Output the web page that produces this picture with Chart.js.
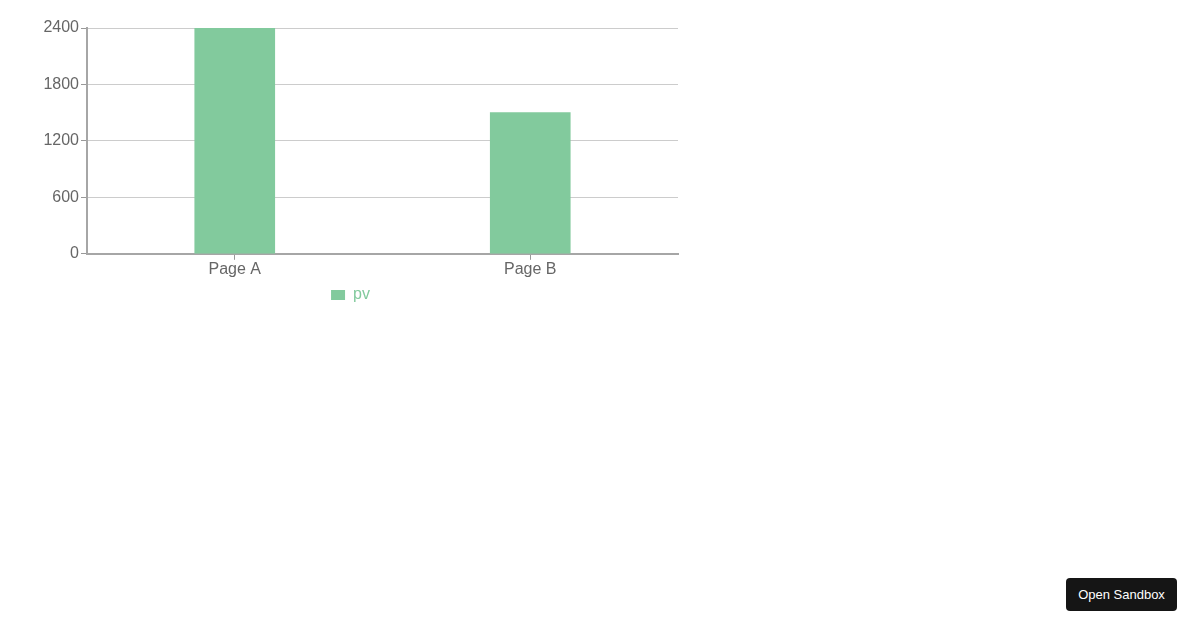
<!DOCTYPE html>
<html lang="en">
<head>
  <meta charset="UTF-8">
  <title>pv by page</title>
  <script src="https://cdn.jsdelivr.net/npm/chart.js"></script>
  <style>
    body {
      margin: 0;
      background-color: #ffffff;
      font-family: "Liberation Sans", Arial, sans-serif;
    }
    #wrap {
      position: absolute;
      left: 0;
      top: 0;
      width: 701px;
      height: 313px;
    }
    .sandbox-btn {
      position: absolute;
      right: 23px;
      bottom: 19px;
      width: 111px;
      height: 33px;
      border: none;
      border-radius: 4px;
      background-color: #151515;
      color: #ffffff;
      font-family: "Liberation Sans", Arial, sans-serif;
      font-size: 13px;
    }
  </style>
</head>
<body>
  <div id="wrap"><canvas id="pvChart" width="701" height="313"></canvas></div>
  <button class="sandbox-btn">Open Sandbox</button>

  <script>
    const categories = ['Page A', 'Page B'];
    const pvValues = [2400, 1500];
    const yMax = 2400;
    const yStep = 600;

    const green = '#82ca9d';
    const fontFamily = '"Liberation Sans", Arial, sans-serif';

    const ctx = document.getElementById('pvChart').getContext('2d');

    new Chart(ctx, {
      type: 'bar',
      data: {
        labels: categories,
        datasets: [
          {
            label: 'pv',
            data: pvValues,
            backgroundColor: green,
            borderWidth: 0,
            barThickness: 80
          }
        ]
      },
      options: {
        responsive: false,
        animation: false,
        layout: {
          padding: { top: 28, right: 0, left: 0, bottom: 0 }
        },
        plugins: {
          tooltip: { enabled: false },
          legend: {
            position: 'bottom',
            labels: {
              color: green,
              boxWidth: 14,
              boxHeight: 10,
              padding: 8,
              font: { family: fontFamily, size: 16 }
            }
          }
        },
        scales: {
          x: {
            grid: {
              offset: false,
              drawOnChartArea: false,
              tickLength: 6,
              tickColor: '#999999'
            },
            border: { color: '#a6a6a6', width: 2 },
            ticks: {
              color: '#666666',
              padding: 0,
              font: { family: fontFamily, size: 16 }
            }
          },
          y: {
            min: 0,
            max: yMax,
            afterFit: scale => { scale.width = 87; },
            grid: {
              color: '#cccccc',
              tickLength: 6,
              tickColor: '#999999'
            },
            border: { color: '#a6a6a6', width: 2 },
            ticks: {
              stepSize: yStep,
              color: '#666666',
              padding: 2,
              callback: value => String(value),
              font: { family: fontFamily, size: 16 }
            }
          },
          // empty spacer on the right so the legend centres on the whole canvas
          spacer: {
            type: 'linear',
            position: 'right',
            afterFit: scale => { scale.width = 23; },
            grid: { display: false },
            border: { display: false },
            ticks: { display: false }
          }
        }
      }
    });
  </script>
</body>
</html>
